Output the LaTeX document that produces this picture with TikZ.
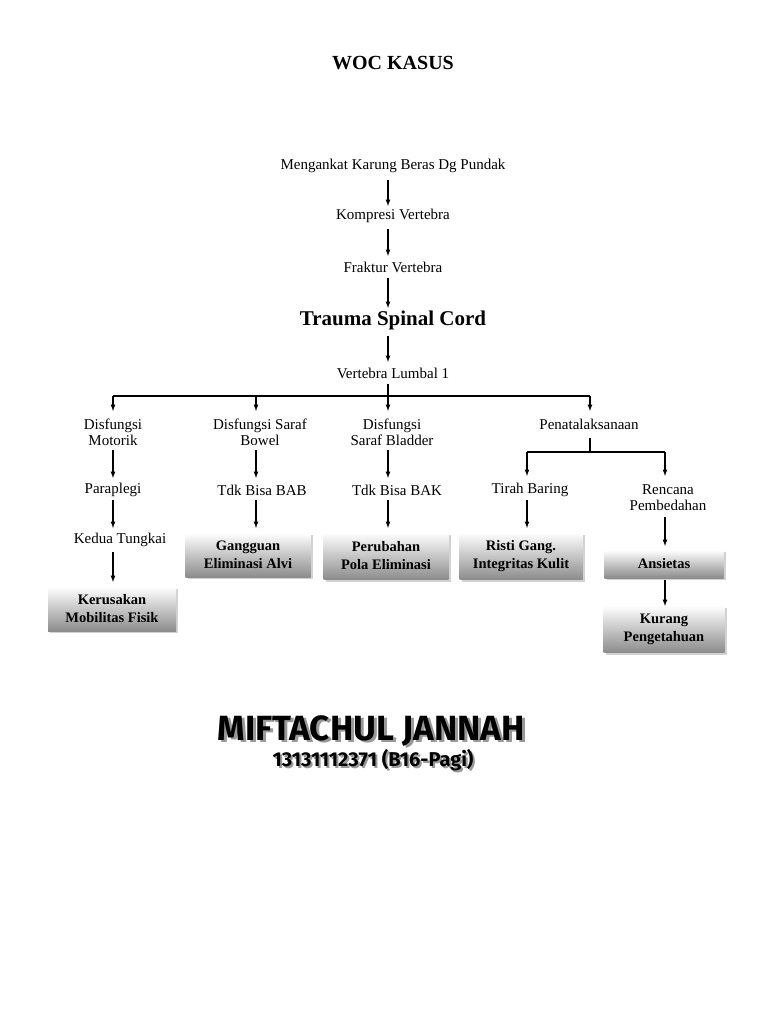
\documentclass[tikz,border=0pt]{standalone}
\usepackage{fontspec}
\setmainfont{Liberation Serif}
\newfontfamily\namefont{Fira Sans}
\usetikzlibrary{shadows}
\begin{document}
\begin{tikzpicture}[x=1pt,y=-1pt,
  txt/.style={font=\fontsize{15}{16}\selectfont,align=center,inner sep=1pt},
  res/.style={font=\fontsize{14.5}{18}\selectfont\bfseries,align=center,top color=white,bottom color=black!45,
     drop shadow={shadow xshift=2pt,shadow yshift=-2pt,fill=black!35},minimum height=44pt,inner sep=2pt},
  arr/.style={-latex,line width=1.2pt},
  ln/.style={line width=1.2pt}]
\useasboundingbox (0,0) rectangle (768,1024);
\node[font=\fontsize{20}{22}\selectfont\bfseries] (title) at (393,63) {WOC KASUS};
\node[txt] (a) at (393,166) {Mengankat Karung Beras Dg Pundak};
\node[txt] (b) at (393,216) {Kompresi Vertebra};
\node[txt] (c) at (393,267) {Fraktur Vertebra};
\node[font=\fontsize{21}{23}\selectfont\bfseries] (d) at (393,320) {Trauma Spinal Cord};
\node[txt] (e) at (393,373) {Vertebra Lumbal 1};
\draw[arr] (388,180) -- (388,206);
\draw[arr] (388,229) -- (388,256);
\draw[arr] (388,278) -- (388,308);
\draw[arr] (388,336) -- (388,362);
\coordinate (h1) at (113,396); \coordinate (h2) at (590,396);
\draw[ln] (388,384) -- (388,396);
\draw[ln] (h1) -- (h2);
\node[txt] (m1) at (113,432) {Disfungsi\\Motorik};
\node[txt] (m2) at (260,432) {Disfungsi Saraf\\Bowel};
\node[txt] (m3) at (392,432) {Disfungsi\\Saraf Bladder};
\node[txt] (m4) at (589,424) {Penatalaksanaan};
\foreach \x in {113,256,388,590} \draw[arr] (\x,396) -- (\x,411);
% col 1
\node[txt] (p1) at (113,490) {Paraplegi};
\node[txt] (k1) at (120,540) {Kedua Tungkai};
\node[res,minimum width=128pt] (r1) at (112,609) {Kerusakan\\Mobilitas Fisik};
\draw[arr] (113,450) -- (113,478);
\draw[arr] (113,500) -- (113,528);
\draw[arr] (113,552) -- (113,582);
% col 2
\node[txt] (p2) at (262,490) {Tdk Bisa BAB};
\node[res,minimum width=125pt] (r2) at (248,555) {Gangguan\\Eliminasi Alvi};
\draw[arr] (256,450) -- (256,478);
\draw[arr] (256,500) -- (256,528);
% col 3
\node[txt] (p3) at (397,490) {Tdk Bisa BAK};
\node[res,minimum width=125pt,minimum height=47pt] (r3) at (386,556) {Perubahan\\Pola Eliminasi};
\draw[arr] (388,450) -- (388,478);
\draw[arr] (388,500) -- (388,528);
% col 4
\draw[ln] (590,438) -- (590,452);
\draw[ln] (527,452) -- (665,452);
\draw[arr] (527,452) -- (527,476);
\draw[arr] (665,452) -- (665,476);
\node[txt] (p4) at (530,490) {Tirah Baring};
\node[res,minimum width=123pt,minimum height=47pt] (r4) at (521,556) {Risti Gang.\\Integritas Kulit};
\draw[arr] (527,500) -- (527,528);
\node[txt] (p5) at (668,498) {Rencana\\Pembedahan};
\node[res,minimum width=119pt,minimum height=28pt] (r5) at (664,564) {Ansietas};
\node[res,minimum width=121pt,minimum height=47pt] (r6) at (664,629) {Kurang\\Pengetahuan};
\draw[arr] (665,517) -- (665,546);
\draw[arr] (665,580) -- (665,606);
% name
\node[font=\namefont\fontsize{35}{37}\selectfont\bfseries,text=black!40] at (374,733) {MIFTACHUL JANNAH};
\node[font=\namefont\fontsize{35}{37}\selectfont\bfseries] (n1) at (371,731) {MIFTACHUL JANNAH};
\node[font=\namefont\fontsize{20}{22}\selectfont\bfseries,text=black!40] at (375,762) {13131112371 (B16-Pagi)};
\node[font=\namefont\fontsize{20}{22}\selectfont\bfseries] (n2) at (373,760) {13131112371 (B16-Pagi)};
\end{tikzpicture}
\end{document}
